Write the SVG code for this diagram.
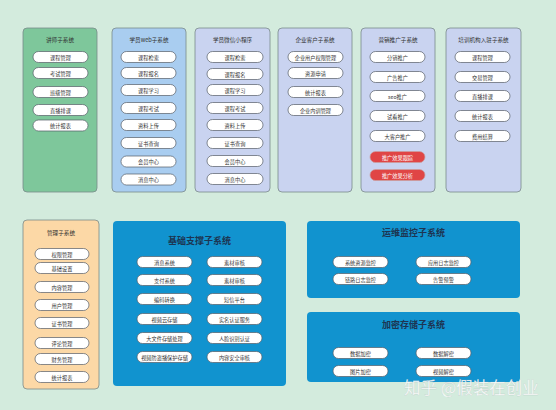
<svg xmlns="http://www.w3.org/2000/svg" width="556" height="410" viewBox="0 0 556 410">
<defs>
<style>
.bg{fill:#d3ebdd}
.pnl{stroke:#7a8a8a;stroke-width:0.8}
.pill{fill:#ffffff;stroke:#555b66;stroke-width:0.7}
.red{fill:#e04545;stroke:#c9a0a0;stroke-width:0.7}
.t{font-family:"Noto Sans CJK SC","Liberation Sans",sans-serif;font-size:5.2px;fill:#333;text-anchor:middle;dominant-baseline:central}
.tw{font-family:"Noto Sans CJK SC","Liberation Sans",sans-serif;font-size:5.2px;fill:#fff;text-anchor:middle;dominant-baseline:central}
.h{font-family:"Noto Sans CJK SC","Liberation Sans",sans-serif;font-size:5.6px;fill:#333;text-anchor:middle;dominant-baseline:central}
.hb{font-family:"Noto Sans CJK SC","Liberation Sans",sans-serif;font-size:9px;font-weight:bold;fill:#1d3552;text-anchor:middle;dominant-baseline:central}
.wm{font-family:"Noto Sans CJK SC",sans-serif;font-size:16.5px;fill:#ffffff;fill-opacity:0.92;stroke:#9aa8a8;stroke-width:0.3;stroke-opacity:0.5}
</style>
</defs>
<rect class="bg" x="0" y="0" width="556" height="410"/>

<g id="lecturer">
<rect class="pnl" x="23" y="28" width="74" height="164" rx="4" fill="#7ec79b"/>
<text class="h" x="60" y="40">讲师子系统</text>
<rect class="pill" x="33" y="51.5" width="55" height="11" rx="5.5"/><text class="t" x="60.5" y="57">课程管理</text>
<rect class="pill" x="33" y="67.5" width="55" height="11" rx="5.5"/><text class="t" x="60.5" y="73">考试管理</text>
<rect class="pill" x="33" y="86.5" width="55" height="11" rx="5.5"/><text class="t" x="60.5" y="92">班级管理</text>
<rect class="pill" x="33" y="104.5" width="55" height="11" rx="5.5"/><text class="t" x="60.5" y="110">直播排课</text>
<rect class="pill" x="33" y="120" width="55" height="11" rx="5.5"/><text class="t" x="60.5" y="125.5">统计报表</text>
</g>

<g id="student-web">
<rect class="pnl" x="112" y="28" width="74" height="164" rx="4" fill="#a9cdf0"/>
<text class="h" x="149" y="40">学员web子系统</text>
<rect class="pill" x="121" y="51.5" width="55" height="11" rx="5.5"/><text class="t" x="148.5" y="57">课程检索</text>
<rect class="pill" x="121" y="67.5" width="55" height="11" rx="5.5"/><text class="t" x="148.5" y="73">课程报名</text>
<rect class="pill" x="121" y="84.5" width="55" height="11" rx="5.5"/><text class="t" x="148.5" y="90">课程学习</text>
<rect class="pill" x="121" y="102.5" width="55" height="11" rx="5.5"/><text class="t" x="148.5" y="108">课程考试</text>
<rect class="pill" x="121" y="119.5" width="55" height="11" rx="5.5"/><text class="t" x="148.5" y="125">资料上传</text>
<rect class="pill" x="121" y="137.5" width="55" height="11" rx="5.5"/><text class="t" x="148.5" y="143">证书查询</text>
<rect class="pill" x="121" y="156" width="55" height="11" rx="5.5"/><text class="t" x="148.5" y="161.5">会员中心</text>
<rect class="pill" x="121" y="174" width="55" height="11" rx="5.5"/><text class="t" x="148.5" y="179.5">消息中心</text>
</g>

<g id="student-miniprogram">
<rect class="pnl" x="195" y="28" width="75" height="164" rx="4" fill="#c9d3f0"/>
<text class="h" x="232.5" y="40">学员微信小程序</text>
<rect class="pill" x="207" y="51.5" width="56" height="11" rx="5.5"/><text class="t" x="235" y="57">课程检索</text>
<rect class="pill" x="207" y="68.5" width="56" height="11" rx="5.5"/><text class="t" x="235" y="74">课程报名</text>
<rect class="pill" x="207" y="84.5" width="56" height="11" rx="5.5"/><text class="t" x="235" y="90">课程学习</text>
<rect class="pill" x="207" y="102.5" width="56" height="11" rx="5.5"/><text class="t" x="235" y="108">课程考试</text>
<rect class="pill" x="207" y="119.5" width="56" height="11" rx="5.5"/><text class="t" x="235" y="125">资料上传</text>
<rect class="pill" x="207" y="137.5" width="56" height="11" rx="5.5"/><text class="t" x="235" y="143">证书查询</text>
<rect class="pill" x="207" y="155.5" width="56" height="11" rx="5.5"/><text class="t" x="235" y="161">会员中心</text>
<rect class="pill" x="207" y="173.5" width="56" height="11" rx="5.5"/><text class="t" x="235" y="179">消息中心</text>
</g>

<g id="enterprise">
<rect class="pnl" x="278" y="28" width="74" height="164" rx="4" fill="#c9d3f0"/>
<text class="h" x="315" y="40">企业客户子系统</text>
<rect class="pill" x="288" y="51.5" width="55" height="11" rx="5.5"/><text class="t" x="315.5" y="57">企业用户权限管理</text>
<rect class="pill" x="288" y="67.5" width="55" height="11" rx="5.5"/><text class="t" x="315.5" y="73">资源申请</text>
<rect class="pill" x="288" y="86.5" width="55" height="11" rx="5.5"/><text class="t" x="315.5" y="92">统计报表</text>
<rect class="pill" x="288" y="104.5" width="55" height="11" rx="5.5"/><text class="t" x="315.5" y="110">企业内训管理</text>
</g>

<g id="marketing">
<rect class="pnl" x="361" y="28" width="74" height="164" rx="4" fill="#c9d3f0"/>
<text class="h" x="398" y="40">营销推广子系统</text>
<rect class="pill" x="370" y="51.5" width="55" height="11" rx="5.5"/><text class="t" x="397.5" y="57">分销推广</text>
<rect class="pill" x="370" y="71.5" width="55" height="11" rx="5.5"/><text class="t" x="397.5" y="77">广告推广</text>
<rect class="pill" x="370" y="90.5" width="55" height="11" rx="5.5"/><text class="t" x="397.5" y="96">seo推广</text>
<rect class="pill" x="370" y="110.5" width="55" height="11" rx="5.5"/><text class="t" x="397.5" y="116">试看推广</text>
<rect class="pill" x="370" y="130.5" width="55" height="11" rx="5.5"/><text class="t" x="397.5" y="136">大客户推广</text>
<rect class="red" x="370" y="151.5" width="55" height="11" rx="5.5"/><text class="tw" x="397.5" y="157">推广效果跟踪</text>
<rect class="red" x="370" y="169.5" width="55" height="11" rx="5.5"/><text class="tw" x="397.5" y="175">推广效果分析</text>
</g>

<g id="institution">
<rect class="pnl" x="446" y="28" width="75" height="164" rx="4" fill="#c9d3f0"/>
<text class="h" x="483.5" y="40">培训机构入驻子系统</text>
<rect class="pill" x="455" y="51.5" width="55" height="11" rx="5.5"/><text class="t" x="482.5" y="57">课程管理</text>
<rect class="pill" x="455" y="71.5" width="55" height="11" rx="5.5"/><text class="t" x="482.5" y="77">交易管理</text>
<rect class="pill" x="455" y="90.5" width="55" height="11" rx="5.5"/><text class="t" x="482.5" y="96">直播排课</text>
<rect class="pill" x="455" y="110.5" width="55" height="11" rx="5.5"/><text class="t" x="482.5" y="116">统计报表</text>
<rect class="pill" x="455" y="130.5" width="55" height="11" rx="5.5"/><text class="t" x="482.5" y="136">费用结算</text>
</g>

<g id="admin">
<rect class="pnl" x="23" y="220" width="76" height="169" rx="4" fill="#fcd8a6"/>
<text class="h" x="61" y="233">管理子系统</text>
<rect class="pill" x="35" y="248.5" width="54" height="11" rx="5.5"/><text class="t" x="62" y="254">权限管理</text>
<rect class="pill" x="35" y="262.5" width="54" height="11" rx="5.5"/><text class="t" x="62" y="268">基础设置</text>
<rect class="pill" x="35" y="281.5" width="54" height="11" rx="5.5"/><text class="t" x="62" y="287">内容管理</text>
<rect class="pill" x="35" y="299.5" width="54" height="11" rx="5.5"/><text class="t" x="62" y="305">用户管理</text>
<rect class="pill" x="35" y="317.5" width="54" height="11" rx="5.5"/><text class="t" x="62" y="323">证书管理</text>
<rect class="pill" x="35" y="337.5" width="54" height="11" rx="5.5"/><text class="t" x="62" y="343">评论管理</text>
<rect class="pill" x="35" y="353.5" width="54" height="11" rx="5.5"/><text class="t" x="62" y="359">财务管理</text>
<rect class="pill" x="35" y="371.5" width="54" height="11" rx="5.5"/><text class="t" x="62" y="377">统计报表</text>
</g>

<g id="base-support">
<rect x="113" y="221" width="173" height="165" rx="4" fill="#1193cf"/>
<text class="hb" x="199.5" y="240">基础支撑子系统</text>
<rect class="pill" x="137" y="256.5" width="55" height="11" rx="5.5"/><text class="t" x="164.5" y="262">消息系统</text>
<rect class="pill" x="137" y="274.5" width="55" height="11" rx="5.5"/><text class="t" x="164.5" y="280">支付系统</text>
<rect class="pill" x="137" y="293.5" width="55" height="11" rx="5.5"/><text class="t" x="164.5" y="299">编码转换</text>
<rect class="pill" x="137" y="313.5" width="55" height="11" rx="5.5"/><text class="t" x="164.5" y="319">视频云存储</text>
<rect class="pill" x="137" y="332.5" width="55" height="11" rx="5.5"/><text class="t" x="164.5" y="338">大文件存储处理</text>
<rect class="pill" x="137" y="351.5" width="55" height="11" rx="5.5"/><text class="t" x="164.5" y="357">视频防盗播保护存储</text>
<rect class="pill" x="207" y="256.5" width="55" height="11" rx="5.5"/><text class="t" x="234.5" y="262">素材审核</text>
<rect class="pill" x="207" y="274.5" width="55" height="11" rx="5.5"/><text class="t" x="234.5" y="280">素材审核</text>
<rect class="pill" x="207" y="293.5" width="55" height="11" rx="5.5"/><text class="t" x="234.5" y="299">短信平台</text>
<rect class="pill" x="207" y="313.5" width="55" height="11" rx="5.5"/><text class="t" x="234.5" y="319">实名认证服务</text>
<rect class="pill" x="207" y="332.5" width="55" height="11" rx="5.5"/><text class="t" x="234.5" y="338">人脸识别认证</text>
<rect class="pill" x="207" y="351.5" width="55" height="11" rx="5.5"/><text class="t" x="234.5" y="357">内容安全审核</text>
</g>

<g id="ops-monitor">
<rect x="307" y="221" width="213" height="77" rx="4" fill="#1193cf"/>
<text class="hb" x="413.5" y="232">运维监控子系统</text>
<rect class="pill" x="333" y="256.5" width="55" height="11" rx="5.5"/><text class="t" x="360.5" y="262">系统资源监控</text>
<rect class="pill" x="333" y="273.5" width="55" height="11" rx="5.5"/><text class="t" x="360.5" y="279">链路日志监控</text>
<rect class="pill" x="416" y="256.5" width="55" height="11" rx="5.5"/><text class="t" x="443.5" y="262">应用日志监控</text>
<rect class="pill" x="416" y="273.5" width="55" height="11" rx="5.5"/><text class="t" x="443.5" y="279">告警预警</text>
</g>

<g id="encrypt-storage">
<rect x="307" y="312" width="213" height="70" rx="4" fill="#1193cf"/>
<text class="hb" x="413.5" y="324">加密存储子系统</text>
<rect class="pill" x="333" y="347.5" width="55" height="11" rx="5.5"/><text class="t" x="360.5" y="353">数据加密</text>
<rect class="pill" x="333" y="365.5" width="55" height="11" rx="5.5"/><text class="t" x="360.5" y="371">图片加密</text>
<rect class="pill" x="416" y="347.5" width="55" height="11" rx="5.5"/><text class="t" x="443.5" y="353">数据解密</text>
<rect class="pill" x="416" y="365.5" width="55" height="11" rx="5.5"/><text class="t" x="443.5" y="371">视频解密</text>
</g>

<g id="connectors"></g>

<text class="wm" x="404" y="394">知乎 @假装在创业</text>
</svg>
